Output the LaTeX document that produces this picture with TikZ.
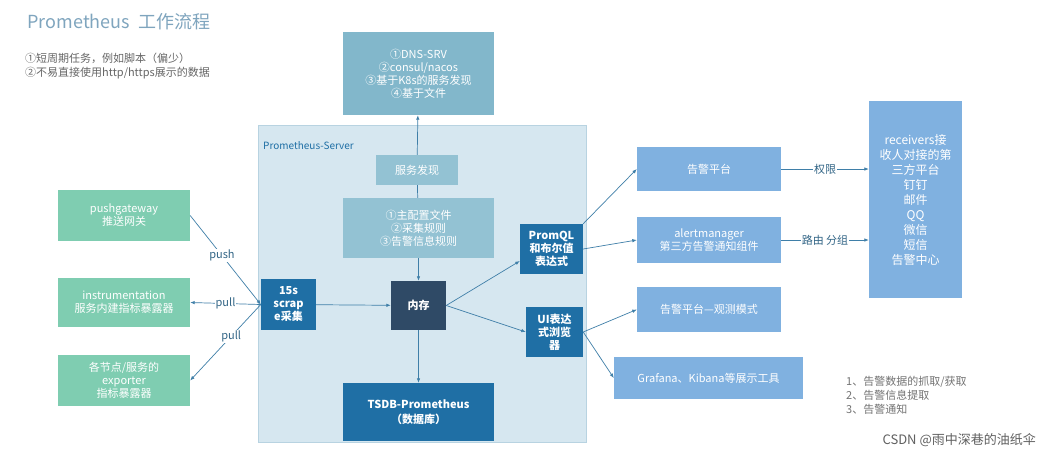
\documentclass[tikz,border=0pt]{standalone}
\usepackage{fontspec}
\setmainfont{Noto Sans CJK SC}
\usetikzlibrary{arrows.meta}
\definecolor{lnc}{HTML}{3F7FA8}
\definecolor{teal}{HTML}{82B7CB}
\definecolor{tealb}{HTML}{93C2D3}
\definecolor{dkb}{HTML}{1F6FA5}
\definecolor{mem}{HTML}{2F4A66}
\definecolor{grn}{HTML}{7FCDB1}
\definecolor{lbl}{HTML}{80B1E0}
\definecolor{srv}{HTML}{D6E7F0}
\definecolor{srvb}{HTML}{B8D3E1}
\definecolor{ttl}{HTML}{7FA5BE}
\begin{document}
\begin{tikzpicture}[x=1pt,y=-1pt,
  bx/.style={draw=none,text=white,align=center,font=\fontsize{11}{13}\selectfont,inner sep=1pt},
  ar/.style={draw=lnc,line width=0.7pt,-{Latex[length=4.5pt,width=3.5pt]}},
  ln/.style={draw=lnc,line width=0.7pt},
  lab/.style={text=lnc!80!black,font=\fontsize{11}{13}\selectfont,inner sep=1pt}]
\useasboundingbox[fill=white] (0,0) rectangle (1051,459);
\node[anchor=west,text=ttl,font=\fontsize{18}{21}\selectfont] (title) at (24,22) {Prometheus\ \ 工作流程};
\node[anchor=north west,text=gray!80!black,align=left,font=\fontsize{11}{14}\selectfont,inner sep=0pt] (notes) at (25,53) {①短周期任务，例如脚本（偏少）\\②不易直接使用http/https展示的数据};
% server container
\node[draw=srvb,fill=srv,minimum width=328,minimum height=317,anchor=north west,inner sep=0pt,line width=0.8pt] (srv) at (258,125) {};
\node[anchor=west,text=dkb,font=\fontsize{10}{12}\selectfont,inner sep=0pt] (srvl) at (263,146) {Prometheus-Server};
\node[bx,fill=teal,minimum width=151,minimum height=83] (dns) at (418.5,73.5) {①DNS-SRV\\②consul/nacos\\③基于K8s的服务发现\\④基于文件};
\node[bx,fill=tealb,minimum width=82,minimum height=30] (sd) at (417,170) {服务发现};
\node[bx,fill=tealb,minimum width=151,minimum height=60] (cfg) at (418.5,228) {①主配置文件\\②采集规则\\③告警信息规则};
\node[bx,fill=dkb,minimum width=55,minimum height=51,font=\bfseries\fontsize{11}{13}\selectfont] (scr) at (288.5,304.5) {15s\\scrap\\e采集};
\node[bx,fill=mem,minimum width=55,minimum height=49,font=\bfseries\fontsize{11}{13}\selectfont] (mem) at (418.5,305.5) {内存};
\node[bx,fill=dkb,minimum width=151,minimum height=58,font=\bfseries\fontsize{11}{15}\selectfont] (tsdb) at (418.5,412) {TSDB-Prometheus\\（数据库）};
\node[bx,fill=dkb,minimum width=63,minimum height=50,font=\bfseries\fontsize{11}{13}\selectfont] (pql) at (551.5,249) {PromQL\\和布尔值\\表达式};
\node[bx,fill=dkb,minimum width=57,minimum height=50,font=\bfseries\fontsize{11}{13}\selectfont] (ui) at (554.5,332) {UI表达\\式浏览\\器};
% left
\node[bx,fill=grn,minimum width=132,minimum height=51] (pg) at (124,215.5) {pushgateway\\推送网关};
\node[bx,fill=grn,minimum width=132,minimum height=49] (ins) at (124,302.5) {instrumentation\\服务内建指标暴露器};
\node[bx,fill=grn,minimum width=132,minimum height=51] (exp) at (124,380.5) {各节点/服务的\\exporter\\指标暴露器};
% right
\node[bx,fill=lbl,minimum width=144,minimum height=44] (alp) at (709,169) {告警平台};
\node[bx,fill=lbl,minimum width=144,minimum height=46] (am) at (709,240) {alertmanager\\第三方告警通知组件};
\node[bx,fill=lbl,minimum width=144,minimum height=45] (obs) at (709,309.5) {告警平台—观测模式};
\node[bx,fill=lbl,minimum width=189,minimum height=42] (gra) at (708.5,378) {Grafana、Kibana等展示工具};
\node[bx,fill=lbl,minimum width=93,minimum height=197,font=\fontsize{12}{15}\selectfont] (rcv) at (915.5,199.5) {receivers接\\收人对接的第\\三方平台\\钉钉\\邮件\\QQ\\微信\\短信\\告警中心};
\node[anchor=north west,text=gray!90!black,align=left,font=\fontsize{11}{14}\selectfont,inner sep=0pt] (bn) at (846,376) {1、告警数据的抓取/获取\\2、告警信息提取\\3、告警通知};
\node[anchor=east,text=gray!75!black,font=\fontsize{13}{15}\selectfont,inner sep=0pt] (wm) at (1036,440) {CSDN @雨中深巷的油纸伞};
% connectors
\draw[ar] (sd) -- (dns);
\draw[ln] (sd) -- (cfg);
\draw[ar] (cfg) -- (mem);
\draw[ar] (mem) -- (tsdb);
\draw[ar] (scr) -- (mem);
\draw[ar] (mem.east) -- ([yshift=-12pt]pql.west);
\draw[ar] (mem.east) -- (ui.west);
\draw[ar] (pg.east) -- node[lab,fill=white,pos=0.45]{push} (scr.west);
\draw[ar] (scr.west) -- node[lab,fill=white,pos=0.5]{pull} (ins.east);
\draw[ar] (scr.west) -- node[lab,fill=white,pos=0.42]{pull} (exp.east);
\draw[ar] (pql.north east) -- (alp.west);
\draw[ar] (pql.east) -- (am.west);
\draw[ar] (ui.east) -- (obs.west);
\draw[ar] (ui.east) -- (gra.west);
\draw[ar] (alp.east) -- node[lab,fill=white]{权限} (rcv.west |- alp.east);
\draw[ar] (am.east) -- node[lab,fill=white]{路由\ 分组} (rcv.west |- am.east);
\end{tikzpicture}
\end{document}
